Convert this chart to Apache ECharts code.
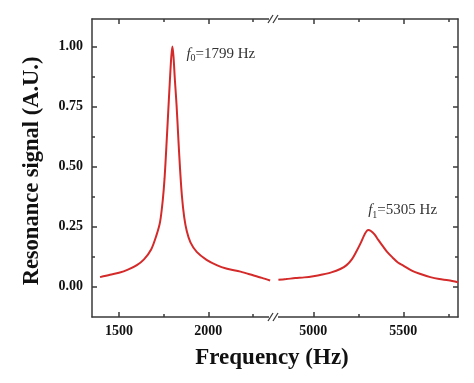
<!DOCTYPE html>
<html>
<head>
<meta charset="utf-8">
<script src="https://cdn.jsdelivr.net/npm/echarts@6/dist/echarts.min.js"></script>
<style>
html,body{margin:0;padding:0;background:#fff;}
#c{width:474px;height:383px;}
</style>
</head>
<body>
<div id="c"></div>
<script>
// ---- data ----
const lowFreq = [1394,1450,1500,1550,1600,1640,1680,1710,1730,1745,1755,1765,1775,1785,1793,1799,1805,1813,1822,1832,1841,1852,1865,1880,1900,1935,1990,2050,2100,2180,2250,2300,2346];
const lowSignal = [0.040,0.050,0.058,0.071,0.090,0.114,0.155,0.215,0.270,0.360,0.450,0.580,0.720,0.860,0.960,1.000,0.960,0.860,0.760,0.620,0.500,0.380,0.290,0.230,0.185,0.145,0.112,0.089,0.076,0.063,0.048,0.037,0.026];
const highFreq = [4806,4850,4900,4950,5000,5050,5100,5150,5185,5215,5240,5265,5285,5305,5320,5340,5360,5385,5410,5440,5470,5500,5550,5600,5650,5700,5750,5804];
const highSignal = [0.029,0.032,0.036,0.039,0.044,0.051,0.060,0.074,0.090,0.115,0.148,0.185,0.218,0.236,0.232,0.218,0.196,0.170,0.145,0.122,0.101,0.088,0.066,0.052,0.040,0.032,0.027,0.019];
const lowMajorTicks = [1500, 2000];
const lowMinorTicks = [1750, 2250];
const highMajorTicks = [5000, 5500];
const highMinorTicks = [5250, 5750];
const yMajorTicks = [0, 0.25, 0.5, 0.75, 1.0];
const yMinorTicks = [0.125, 0.375, 0.625, 0.875];
const peak0 = [1799, 1.0];
const peak1 = [5305, 0.236];
const xTitle = 'Frequency (Hz)';
const yTitle = 'Resonance signal (A.U.)';

// ---- style ----
const FONT = '"Liberation Serif", "Times New Roman", serif';
const AXC = '#3a3a3a';
const RED = '#d42a2a';
const G0 = {left: 92, top: 19, width: 181, height: 298};
const G1 = {left: 273, top: 19, width: 185, height: 298};

function xAx(grid, min, max, pos, ticks, len, labels, line) {
  return {
    type: 'value', gridIndex: grid, position: pos, min: min, max: max,
    axisLine: {show: line, onZero: false, lineStyle: {color: AXC, width: 1.5}},
    axisTick: {show: true, inside: true, length: len, customValues: ticks, lineStyle: {color: AXC, width: 1.5}},
    axisLabel: labels ? {show: true, customValues: ticks, margin: 7, color: '#111', fontFamily: FONT, fontWeight: 'bold', fontSize: 14, formatter: v => String(v)} : {show: false},
    splitLine: {show: false}
  };
}
function yAx(grid, pos, ticks, len, labels, line) {
  return {
    type: 'value', gridIndex: grid, position: pos, min: -0.126, max: 1.115,
    axisLine: {show: line, onZero: false, lineStyle: {color: AXC, width: 1.5}},
    axisTick: {show: true, inside: true, length: len, customValues: ticks, lineStyle: {color: AXC, width: 1.5}},
    axisLabel: labels ? {show: true, customValues: ticks, margin: 9, color: '#111', fontFamily: FONT, fontWeight: 'bold', fontSize: 14, formatter: v => v.toFixed(2)} : {show: false},
    splitLine: {show: false}
  };
}

const yA0 = yAx(0, 'left', yMajorTicks, 5, true, true);
yA0.name = yTitle;
yA0.nameLocation = 'middle';
yA0.nameGap = 48;
yA0.nameTextStyle = {fontFamily: FONT, fontWeight: 'bold', fontSize: 22.5, color: '#111', padding: [0, 6, 0, 0]};

const chart = echarts.init(document.getElementById('c'), null, {renderer: 'canvas'});
const bx = G1.left, ty = G0.top, by = G0.top + G0.height;
function breakMarks(y) {
  return [
    {type: 'rect', shape: {x: bx - 4, y: y - 3, width: 9, height: 6}, style: {fill: '#fff'}, z: 100},
    {type: 'line', shape: {x1: bx - 5, y1: y + 4, x2: bx, y2: y - 4}, style: {stroke: AXC, lineWidth: 1.3}, z: 101},
    {type: 'line', shape: {x1: bx, y1: y + 4, x2: bx + 5, y2: y - 4}, style: {stroke: AXC, lineWidth: 1.3}, z: 101}
  ];
}

chart.setOption({
  animation: false,
  backgroundColor: '#fff',
  grid: [G0, G1],
  xAxis: [
    xAx(0, 1349, 2362, 'bottom', lowMajorTicks, 5, true, true),
    xAx(0, 1349, 2362, 'top', lowMajorTicks, 5, false, true),
    xAx(0, 1349, 2362, 'bottom', lowMinorTicks, 3, false, false),
    xAx(0, 1349, 2362, 'top', lowMinorTicks, 3, false, false),
    xAx(1, 4776, 5804, 'bottom', highMajorTicks, 5, true, true),
    xAx(1, 4776, 5804, 'top', highMajorTicks, 5, false, true),
    xAx(1, 4776, 5804, 'bottom', highMinorTicks, 3, false, false),
    xAx(1, 4776, 5804, 'top', highMinorTicks, 3, false, false)
  ],
  yAxis: [
    yA0,
    yAx(0, 'left', yMinorTicks, 3, false, false),
    yAx(1, 'right', yMajorTicks, 5, false, true),
    yAx(1, 'right', yMinorTicks, 3, false, false)
  ],
  series: [
    {
      type: 'line', xAxisIndex: 0, yAxisIndex: 0, showSymbol: false, smooth: 0.3,
      data: lowFreq.map((f, i) => [f, lowSignal[i]]),
      lineStyle: {color: RED, width: 2}, itemStyle: {color: RED},
      markPoint: {
        symbol: 'circle', symbolSize: 0, silent: true,
        data: [{coord: peak0}],
        label: {
          show: true, position: [14, 7], align: 'left', verticalAlign: 'middle',
          formatter: '{i|f}{s|0}{t|=1799 Hz}',
          rich: {
            i: {fontFamily: FONT, fontStyle: 'italic', fontSize: 15, color: '#333', lineHeight: 20},
            s: {fontFamily: FONT, fontSize: 10, color: '#333', verticalAlign: 'bottom', lineHeight: 12},
            t: {fontFamily: FONT, fontSize: 15, color: '#333', lineHeight: 20}
          }
        }
      }
    },
    {
      type: 'line', xAxisIndex: 4, yAxisIndex: 2, showSymbol: false, smooth: 0.3,
      data: highFreq.map((f, i) => [f, highSignal[i]]),
      lineStyle: {color: RED, width: 2}, itemStyle: {color: RED},
      markPoint: {
        symbol: 'circle', symbolSize: 0, silent: true,
        data: [{coord: peak1}],
        label: {
          show: true, position: [0, -20], align: 'left', verticalAlign: 'middle',
          formatter: '{i|f}{s|1}{t|=5305 Hz}',
          rich: {
            i: {fontFamily: FONT, fontStyle: 'italic', fontSize: 15, color: '#333', lineHeight: 20},
            s: {fontFamily: FONT, fontSize: 10, color: '#333', verticalAlign: 'bottom', lineHeight: 12},
            t: {fontFamily: FONT, fontSize: 15, color: '#333', lineHeight: 20}
          }
        }
      }
    }
  ],
  graphic: [
    ...breakMarks(ty),
    ...breakMarks(by),
    {type: 'text', style: {x: 272, y: 358, text: xTitle, textAlign: 'center', textVerticalAlign: 'middle', fontFamily: FONT, fontWeight: 'bold', fontSize: 23, fill: '#111'}}
  ]
});
</script>
</body>
</html>
